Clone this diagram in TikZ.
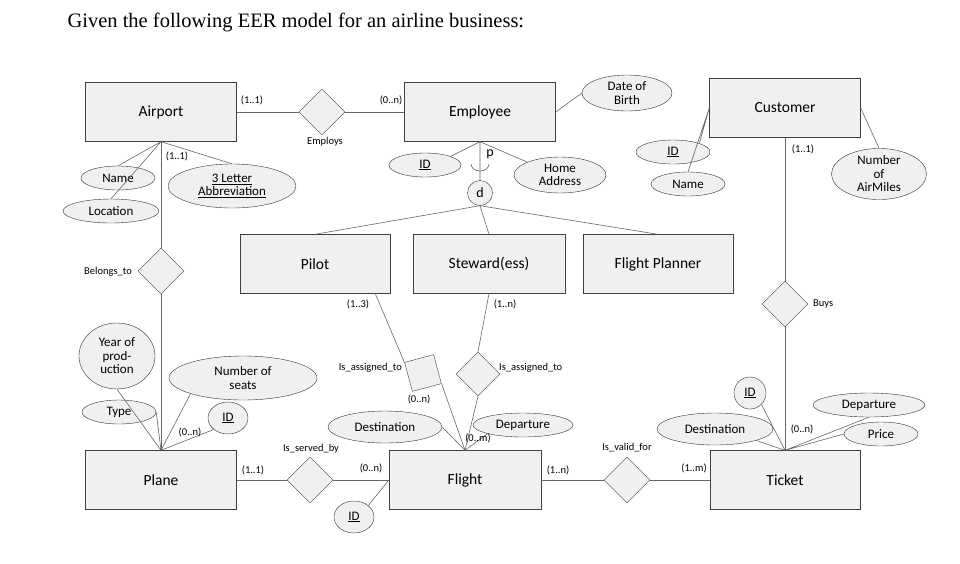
\documentclass[tikz,border=0pt]{standalone}
\usepackage{fontspec}
\setmainfont{Carlito}
\newfontfamily\titlefont{Liberation Serif}
\usetikzlibrary{shapes.geometric}
\begin{document}
\begin{tikzpicture}[x=1pt,y=-1pt,
  ent/.style={draw=black!75,fill=black!6,minimum width=151pt,minimum height=59pt,font=\fontsize{15.5}{17}\selectfont,inner sep=0pt},
  att/.style={draw=black!80,fill=black!6,ellipse,inner sep=0pt,font=\fontsize{13}{13.5}\selectfont,align=center},
  rel/.style={draw=black!75,fill=black!6,diamond,minimum width=46pt,minimum height=46pt,inner sep=0pt},
  lbl/.style={font=\fontsize{10.5}{12}\selectfont,inner sep=1pt},
  ln/.style={draw=black!60,line width=0.6pt}]
\useasboundingbox (0,0) rectangle (960,563);
\node[anchor=west,font=\titlefont\fontsize{20.5}{24}\selectfont] (title) at (64,22) {Given the following EER model for an airline business:};
% entities
\node[ent] (airport) at (161,112) {Airport};
\node[ent] (employee) at (480,112) {Employee};
\node[ent] (customer) at (785,108) {Customer};
\node[ent,minimum width=150pt] (pilot) at (315,264) {Pilot};
\node[ent,minimum width=152pt] (steward) at (489,264) {Steward(ess)};
\node[ent,minimum width=150pt] (planner) at (658,264) {Flight Planner};
\node[ent] (plane) at (161,480) {Plane};
\node[ent,minimum width=152pt] (flight) at (465,480) {Flight};
\node[ent,minimum width=150pt] (ticket) at (785,480) {Ticket};
% relationships
\node[rel] (employs) at (322,112) {};
\node[lbl] (employsl) at (325,142) {Employs};
\node[rel] (belongs) at (161,271) {};
\node[lbl,anchor=east] (belongsl) at (133,272) {Belongs\_to};
\node[rel] (buys) at (785,304) {};
\node[lbl,anchor=west] (buysl) at (812,304) {Buys};
\node[rel] (served) at (310,480) {};
\node[lbl] (servedl) at (311,449) {Is\_served\_by};
\node[rel] (valid) at (627,480) {};
\node[lbl] (validl) at (627,448) {Is\_valid\_for};
\node[draw=black!75,fill=black!6,minimum width=30pt,minimum height=30pt,rotate=15,inner sep=0pt] (assign1) at (423,373) {};
\node[lbl,anchor=east] (assign1l) at (403,368) {Is\_assigned\_to};
\node[rel,minimum width=44pt,minimum height=44pt] (assign2) at (478,374) {};
\node[lbl,anchor=west] (assign2l) at (498,368) {Is\_assigned\_to};
\node[draw=black!80,fill=black!6,circle,minimum size=25pt,inner sep=0pt,font=\fontsize{14}{15}\selectfont] (d) at (480,193) {d};
% attributes
\node[att,minimum width=74pt,minimum height=24pt] (aname) at (118,178) {Name};
\node[att,minimum width=96pt,minimum height=24pt] (aloc) at (111,211) {Location};
\node[att,minimum width=128pt,minimum height=44pt] (aabbr) at (232,186) {\underline{3 Letter}\\\underline{Abbreviation}};
\node[att,minimum width=90pt,minimum height=36pt] (dob) at (627,93) {Date of\\Birth};
\node[att,minimum width=72pt,minimum height=24pt] (eid) at (425,165) {\underline{ID}};
\node[att,minimum width=92pt,minimum height=36pt] (addr) at (560,175) {Home\\Address};
\node[att,minimum width=74pt,minimum height=24pt] (cid) at (673,152) {\underline{ID}};
\node[att,minimum width=74pt,minimum height=24pt] (cname) at (688,184) {Name};
\node[att,minimum width=95pt,minimum height=50pt] (miles) at (879,174) {Number\\of\\AirMiles};
\node[att,minimum width=76pt,minimum height=66pt] (year) at (117,356) {Year of\\prod-\\uction};
\node[att,minimum width=148pt,minimum height=44pt] (seats) at (243,378) {Number of\\seats};
\node[att,minimum width=74pt,minimum height=24pt] (ptype) at (119,412) {Type};
\node[att,minimum width=40pt,minimum height=32pt] (pid) at (228,418) {\underline{ID}};
\node[att,minimum width=40pt,minimum height=32pt] (fid) at (354,517) {\underline{ID}};
\node[att,minimum width=114pt,minimum height=32pt] (fdest) at (385,427) {Destination};
\node[att,minimum width=100pt,minimum height=24pt] (fdep) at (523,425) {Departure};
\node[att,minimum width=32pt,minimum height=32pt] (tid) at (750,393) {\underline{ID}};
\node[att,minimum width=116pt,minimum height=32pt] (tdest) at (715,429) {Destination};
\node[att,minimum width=112pt,minimum height=24pt] (tdep) at (869,405) {Departure};
\node[att,minimum width=74pt,minimum height=24pt] (tprice) at (881,434) {Price};
% connectors
\draw[ln] (airport.east) -- (employs.west) (employs.east) -- (employee.west);
\draw[ln] (airport.south) -- (belongs.north) (belongs.south) -- (plane.north);
\draw[ln] (airport.south) -- (aname.north) (airport.south) -- (aloc.north) (airport.south) -- (aabbr.north);
\draw[ln] (employee.east) -- (dob.west);
\draw[ln] (employee.south) -- (eid.north east) (employee.south) -- (addr.north west) (employee.south) -- (d.north);
\draw[ln] (d.south) -- (pilot.north) (d.south) -- (steward.north) (d.south) -- (planner.north);
\draw[ln] (471,164) arc[start angle=180,end angle=360,x radius=9pt,y radius=7pt];
\node[font=\fontsize{14}{15}\selectfont] (p) at (490,154) {p};
\draw[ln] (customer.west) -- (cid.north east) (customer.west) -- (cname.north);
\draw[ln] (customer.east) -- (miles.north);
\draw[ln] (customer.south) -- (buys.north) (buys.south) -- (ticket.north);
\draw[ln] (plane.north) -- (year.south) (plane.north) -- (seats.south west) (plane.north) -- (ptype.east) (plane.north) -- (pid.south west);
\draw[ln] (plane.east) -- (served.west) (served.east) -- (flight.west);
\draw[ln] (flight.west) -- (fid.north east);
\draw[ln] (flight.east) -- (valid.west) (valid.east) -- (ticket.west);
\draw[ln] (flight.north) -- (fdest.east) (flight.north) -- (fdep.south west);
\draw[ln] (375,293) -- (assign1.north west) (assign1.south east) -- (flight.north);
\draw[ln] (steward.south) -- (assign2.north) (assign2.south) -- (flight.north);
\draw[ln] (ticket.north) -- (tid.south east) (ticket.north) -- (tdest.south east) (ticket.north) -- (tdep.south) (ticket.north) -- (tprice.west);
% cardinalities
\node[lbl] (c1) at (252,100) {(1..1)};
\node[lbl] (c2) at (391,100) {(0..n)};
\node[lbl] (c3) at (177,156) {(1..1)};
\node[lbl] (c4) at (803,149) {(1..1)};
\node[lbl] (c5) at (358,304) {(1..3)};
\node[lbl] (c6) at (505,304) {(1..n)};
\node[lbl] (c7) at (419,399) {(0..n)};
\node[lbl] (c8) at (190,432) {(0..n)};
\node[lbl] (c9) at (478,438) {(0..m)};
\node[lbl] (c10) at (253,470) {(1..1)};
\node[lbl] (c11) at (371,468) {(0..n)};
\node[lbl] (c12) at (558,470) {(1..n)};
\node[lbl] (c13) at (694,468) {(1..m)};
\node[lbl] (c14) at (802,429) {(0..n)};
\end{tikzpicture}
\end{document}
